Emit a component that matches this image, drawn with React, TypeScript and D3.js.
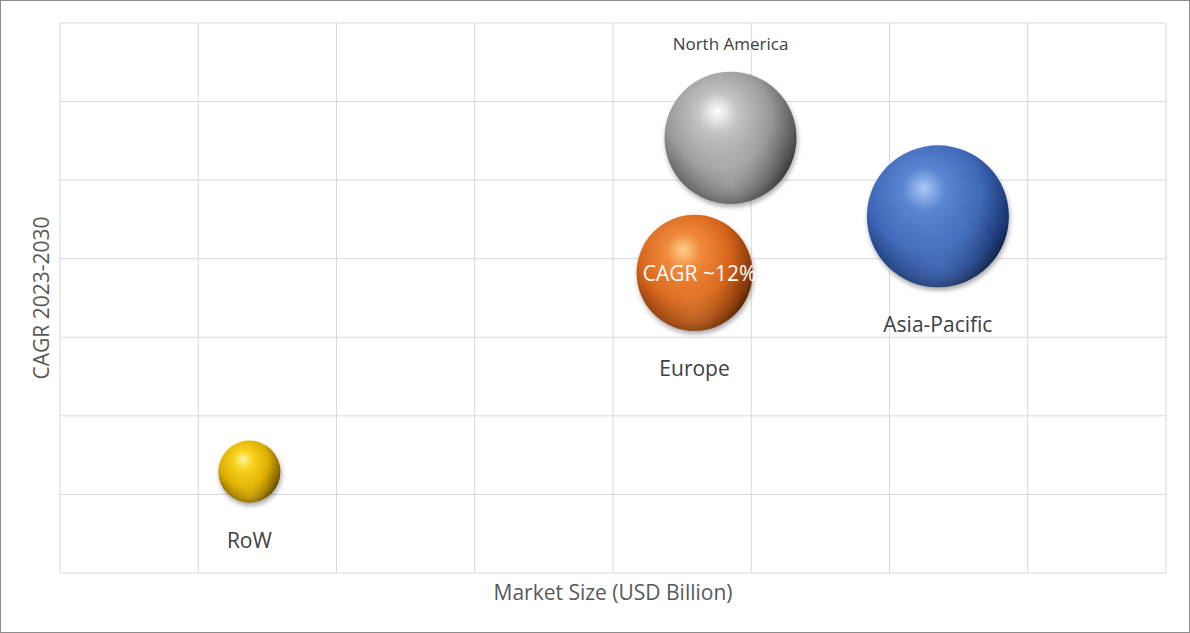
import React from "react";
import * as d3 from "d3";

const regions = ["North America", "Europe", "Asia-Pacific", "RoW"];
const marketSize = [4.85, 4.59, 6.35, 1.37];
const cagr = [5.54, 3.82, 4.54, 1.29];
const bubbleSize = [86.4, 66.7, 100, 19.1];
const palettes = [
  ["#ffffff", "#c4c4c4", "#999999", "#555555", "#262626"],
  ["#ffd08a", "#f08a3c", "#d7661c", "#853608", "#401802"],
  ["#a9c8f5", "#5b86d2", "#3f68b8", "#1c3874", "#0a1632"],
  ["#fff7a8", "#f7d21e", "#dcae00", "#866400", "#443000"],
];
const xTicks = [0, 1, 2, 3, 4, 5, 6, 7, 8];
const yTicks = [0, 1, 2, 3, 4, 5, 6, 7];
const xTitle = "Market Size (USD Billion)";
const yTitle = "CAGR 2023-2030";
const insideLabel = "CAGR ~12%";

const W = 1190, H = 633;
const L = 60, R = 1166, T = 23, B = 573;
const FONT = "'Open Sans', 'Noto Sans', sans-serif";

export default function App() {
  const x = d3.scaleLinear().domain([0, 8]).range([L, R]);
  const y = d3.scaleLinear().domain([0, 7]).range([B, T]);
  const r = d3.scaleSqrt().domain([0, 100]).range([0, 71]);

  const labelPos = ["above", "below", "below", "below"];
  const labelSize = [17, 21, 21, 21];

  return (
    <svg width={W} height={H} style={{ position: "absolute", left: 0, top: 0 }} xmlns="http://www.w3.org/2000/svg">
      <defs>
        {palettes.map((p, i) => (
          <radialGradient key={i} id={`g${i}`} cx="0.42" cy="0.36" r="0.68" fx="0.4" fy="0.3">
            <stop offset="0" stopColor={p[0]} />
            <stop offset="0.22" stopColor={p[1]} />
            <stop offset="0.58" stopColor={p[2]} />
            <stop offset="0.86" stopColor={p[3]} />
            <stop offset="1" stopColor={p[4]} />
          </radialGradient>
        ))}
        {palettes.map((p, i) => (
          <radialGradient key={"b" + i} id={`rb${i}`} cx="0.5" cy="0.85" r="0.45">
            <stop offset="0" stopColor={p[1]} stopOpacity="0.55" />
            <stop offset="1" stopColor={p[1]} stopOpacity="0" />
          </radialGradient>
        ))}
        <filter id="shadow" x="-30%" y="-30%" width="160%" height="160%">
          <feGaussianBlur in="SourceAlpha" stdDeviation="2.5" />
          <feOffset dx="1" dy="3" result="b" />
          <feComponentTransfer>
            <feFuncA type="linear" slope="0.35" />
          </feComponentTransfer>
          <feMerge>
            <feMergeNode />
            <feMergeNode in="SourceGraphic" />
          </feMerge>
        </filter>
      </defs>
      <rect x={0.5} y={0.5} width={W - 1} height={H - 1} fill="#fff" stroke="#8c8c8c" strokeWidth={1} />
      <g>
        {xTicks.map((t) => (
          <line key={"x" + t} x1={x(t)} x2={x(t)} y1={T} y2={B} stroke="#d9d9d9" strokeWidth={1} />
        ))}
        {yTicks.map((t) => (
          <line key={"y" + t} x1={L} x2={R} y1={y(t)} y2={y(t)} stroke="#d9d9d9" strokeWidth={1} />
        ))}
      </g>
      {regions.map((name, i) => {
        const cx = x(marketSize[i]);
        const cy = y(cagr[i]);
        const rr = r(bubbleSize[i]);
        return (
          <g key={name}>
            <g filter="url(#shadow)">
              <circle cx={cx} cy={cy} r={rr} fill={`url(#g${i})`} />
            </g>
            <circle cx={cx} cy={cy} r={rr} fill={`url(#rb${i})`} />
          </g>
        );
      })}
      {regions.map((name, i) => {
        const cx = x(marketSize[i]);
        const cy = y(cagr[i]);
        const rr = r(bubbleSize[i]);
        const ly = labelPos[i] === "above" ? cy - rr - 22 : cy + rr + 45;
        return (
          <text key={"l" + name} x={cx} y={ly} textAnchor="middle" fontFamily={FONT} fontSize={labelSize[i]} fill="#404040">
            {name}
          </text>
        );
      })}
      <text x={x(marketSize[1]) + 5} y={y(cagr[1]) + 8} textAnchor="middle" fontFamily={FONT} fontSize={21} fill="#ffffff">
        {insideLabel}
      </text>
      <text x={(L + R) / 2} y={600} textAnchor="middle" fontFamily={FONT} fontSize={21} fill="#595959">
        {xTitle}
      </text>
      <text transform={`translate(49, ${(T + B) / 2}) rotate(-90)`} textAnchor="middle" fontFamily={FONT} fontSize={21} fill="#595959">
        {yTitle}
      </text>
    </svg>
  );
}
